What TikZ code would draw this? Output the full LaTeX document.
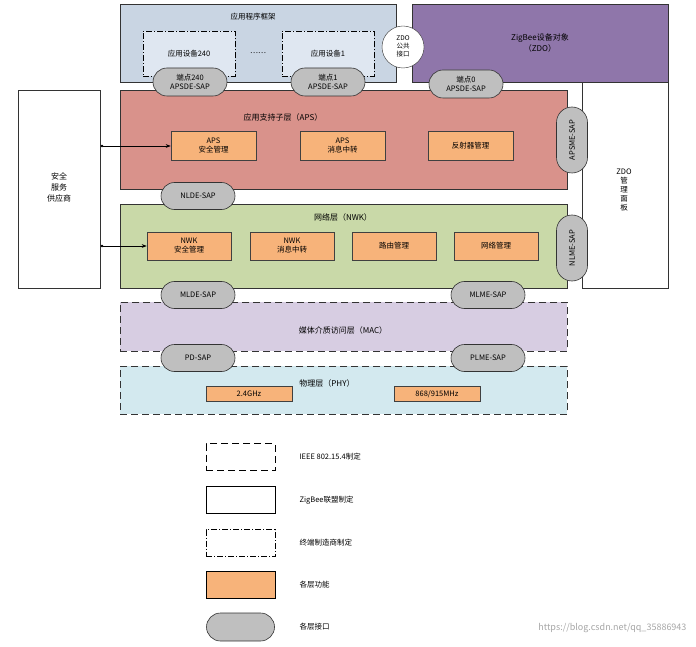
\documentclass[tikz,border=0pt]{standalone}
\usepackage{fontspec}
\setmainfont{Noto Sans CJK SC}
\usetikzlibrary{shapes.misc,arrows.meta}
\definecolor{afw}{HTML}{C9D5E3}
\definecolor{adev}{HTML}{DFE7F1}
\definecolor{zdo}{HTML}{8F76AA}
\definecolor{aps}{HTML}{D9928B}
\definecolor{nwk}{HTML}{C9D9A8}
\definecolor{mac}{HTML}{D7CDE2}
\definecolor{phy}{HTML}{D3E9EF}
\definecolor{func}{HTML}{F7B37A}
\definecolor{cap}{HTML}{BFBFBF}
\tikzset{
 lay/.style={draw=black!80,line width=0.8pt,anchor=north west,minimum width=#1,inner sep=0},
 fbox/.style={draw=black!75,fill=func,line width=0.6pt,inner sep=0,align=center,font=\fontsize{7.5}{9}\selectfont},
 capsule/.style={rounded rectangle,draw=black!80,fill=cap,line width=0.6pt,inner sep=1pt,align=center,font=\fontsize{7.5}{9}\selectfont,minimum width=76pt,minimum height=28pt},
 lbl/.style={font=\fontsize{7.5}{9}\selectfont,align=center},
 dshl/.style={dash pattern=on 7pt off 4pt},
 dotdash/.style={dash pattern=on 6pt off 2pt on 1pt off 2pt},
 arr/.style={{Circle[length=2.5pt]}-{Stealth[length=5pt]},line width=0.6pt}
}
\begin{document}
\begin{tikzpicture}[x=1pt,y=-1pt]
\useasboundingbox (0,0) rectangle (696,647);
% layers
\node[lay=276pt,fill=afw,minimum height=78pt] (afw) at (120,4) {};
\node[lbl] (afwt) at (253,17) {应用程序框架};
\node[draw=black,dotdash,fill=adev,minimum width=92pt,minimum height=45pt,inner sep=0,lbl] (d240) at (189,54) {应用设备240};
\node[draw=black,dotdash,fill=adev,minimum width=92pt,minimum height=45pt,inner sep=0,lbl] (d1) at (328,54) {应用设备1};
\node[lbl] (dots) at (258,53) {……};
\node[lay=256pt,fill=zdo,minimum height=78pt] (zdo) at (412,4) {};
\node[lbl,font=\fontsize{8}{11}\selectfont] (zdot) at (540,43) {ZigBee设备对象\\（ZDO）};
\node[rounded rectangle,rounded rectangle arc length=180,draw=black!80,fill=white,minimum width=29pt,minimum height=42pt,inner sep=0,lbl,font=\fontsize{6.5}{8}\selectfont,rotate=90] (zdoi) at (403,47) {\rotatebox{-90}{\begin{tabular}{@{}c@{}}ZDO\\公共\\接口\end{tabular}}};
\node[lay=86pt,fill=white,minimum height=206pt] (panel) at (582,82) {};
\node[lbl] (panelt) at (624,190) {ZDO\\管\\理\\面\\板};
\node[lay=447pt,fill=aps,minimum height=99pt] (aps) at (120,90) {};
\node[lbl,font=\fontsize{8}{10}\selectfont] (apst) at (283,117) {应用支持子层（APS）};
\node[lay=447pt,fill=nwk,minimum height=84pt] (nwk) at (120,204) {};
\node[lbl,font=\fontsize{8}{10}\selectfont] (nwkt) at (343,217) {网络层（NWK）};
\node[lay=447pt,fill=mac,minimum height=49pt,dshl] (mac) at (120,302) {};
\node[lbl,font=\fontsize{8}{10}\selectfont] (mact) at (343,330) {媒体介质访问层（MAC）};
\node[lay=447pt,fill=phy,minimum height=48pt,dshl] (phy) at (120,366) {};
\node[lbl,font=\fontsize{8}{10}\selectfont] (phyt) at (327,383) {物理层（PHY）};
\node[lay=82pt,fill=white,minimum height=198pt] (sec) at (18,90) {};
\node[lbl,font=\fontsize{8}{11}\selectfont] (sect) at (59,187) {安全\\服务\\供应商};
% function boxes
\node[fbox,minimum width=85pt,minimum height=29pt] (aps1) at (213.5,146) {APS\\安全管理};
\node[fbox,minimum width=85pt,minimum height=29pt] (aps2) at (342.5,146) {APS\\消息中转};
\node[fbox,minimum width=85pt,minimum height=29pt] (aps3) at (470.5,146) {反射器管理};
\node[fbox,minimum width=84pt,minimum height=28pt] (nwk1) at (189,246) {NWK\\安全管理};
\node[fbox,minimum width=84pt,minimum height=28pt] (nwk2) at (292,246) {NWK\\消息中转};
\node[fbox,minimum width=84pt,minimum height=28pt] (nwk3) at (394,246) {路由管理};
\node[fbox,minimum width=84pt,minimum height=28pt] (nwk4) at (496,246) {网络管理};
\node[fbox,minimum width=86pt,minimum height=15pt] (phy1) at (249,394) {2.4GHz};
\node[fbox,minimum width=86pt,minimum height=15pt] (phy2) at (437,394) {868/915MHz};
% capsules
\node[capsule] (ep240) at (190,82) {端点240\\APSDE-SAP};
\node[capsule] (ep1) at (328,82) {端点1\\APSDE-SAP};
\node[capsule] (ep0) at (466,84) {端点0\\APSDE-SAP};
\node[capsule,minimum height=27pt] (nlde) at (198,196) {NLDE-SAP};
\node[capsule,minimum height=27pt] (mlde) at (198,295) {MLDE-SAP};
\node[capsule,minimum height=27pt] (mlme) at (488,295) {MLME-SAP};
\node[capsule,minimum height=27pt] (pd) at (198,358) {PD-SAP};
\node[capsule,minimum height=27pt] (plme) at (488,358) {PLME-SAP};
\node[capsule,rotate=90,minimum width=68pt,minimum height=31pt] (apsme) at (572,140) {APSME-SAP};
\node[capsule,rotate=90,minimum width=68pt,minimum height=31pt] (nlme) at (572,248) {NLME-SAP};
% arrows
\draw[arr] (sec.east |- aps1) -- (aps1.west);
\draw[arr] (sec.east |- nwk1) -- (nwk1.west);
% legend
\node[draw=black,dshl,minimum width=69pt,minimum height=27pt,inner sep=0] (l1) at (240.5,457) {};
\node[draw=black,minimum width=69pt,minimum height=27pt,inner sep=0] (l2) at (240.5,500) {};
\node[draw=black,dotdash,minimum width=69pt,minimum height=27pt,inner sep=0] (l3) at (240.5,543) {};
\node[draw=black,fill=func,minimum width=69pt,minimum height=27pt,inner sep=0] (l4) at (240.5,585) {};
\node[capsule,minimum width=70pt,minimum height=28pt] (l5) at (240.5,627) {};
\node[lbl,anchor=west] (t1) at (296,457) {IEEE 802.15.4制定};
\node[lbl,anchor=west] (t2) at (296,500) {ZigBee联盟制定};
\node[lbl,anchor=west] (t3) at (296,543) {终端制造商制定};
\node[lbl,anchor=west] (t4) at (296,585) {各层功能};
\node[lbl,anchor=west] (t5) at (296,627) {各层接口};
\node[font=\fontsize{9}{10}\selectfont,text=black!35,anchor=east] (wm) at (690,628) {https://blog.csdn.net/qq\_35886943};
\end{tikzpicture}
\end{document}
